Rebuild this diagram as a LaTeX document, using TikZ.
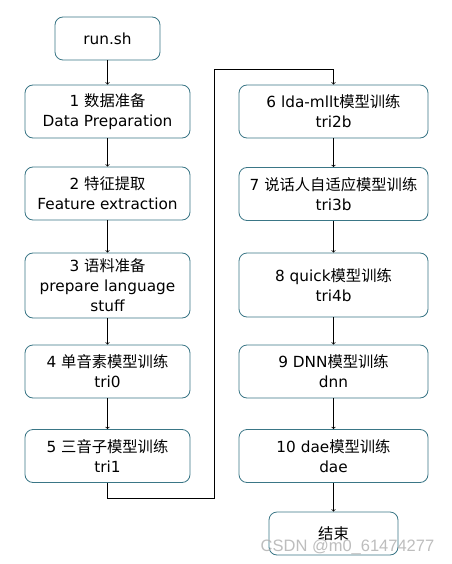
\documentclass[tikz,border=0pt]{standalone}
\usepackage{fontspec}
\setmainfont{DejaVu Sans}
\newfontfamily\cjk{Noto Sans CJK SC}
\newfontfamily\wmfont{Liberation Sans}
\usepackage{xcolor}
\usepackage{tikz}
\usetikzlibrary{arrows}
\definecolor{boxline}{HTML}{3A7686}
\tikzset{
    stepnode/.style={draw=boxline, line width=0.8pt, rounded corners=8pt, fill=white,
        minimum width=165pt, minimum height=53pt, inner sep=0pt, align=center,
        font=\fontsize{15.3}{20}\selectfont},
    flow/.style={-to, line width=0.7pt}
}
\begin{document}
\begin{tikzpicture}[x=1pt,y=-1pt]
                    \useasboundingbox (0,0) rectangle (451,564);
                    \node[stepnode, minimum width=105pt, minimum height=43pt] (run) at (107.5,38.5) {run.sh};
                    \node[stepnode] (s1) at (107.5,111.5) {1 {\cjk 数据准备}\\Data Preparation};
                    \node[stepnode] (s2) at (107.5,193.5) {2 {\cjk 特征提取}\\Feature extraction};
                    \node[stepnode, minimum height=65pt] (s3) at (107.5,285.5) {3 {\cjk 语料准备}\\prepare language\\stuff};
                    \node[stepnode] (s4) at (107.5,371.5) {4 {\cjk 单音素模型训练}\\tri0};
                    \node[stepnode] (s5) at (107.5,456) {5 {\cjk 三音子模型训练}\\tri1};
                    \node[stepnode, minimum width=189pt] (s6) at (333.5,111.5) {6 lda-mllt{\cjk 模型训练}\\tri2b};
                    \node[stepnode, minimum width=189pt] (s7) at (333.5,194) {7 {\cjk 说话人自适应模型训练}\\tri3b};
                    \node[stepnode, minimum width=189pt, minimum height=64pt] (s8) at (333.5,285) {8 quick{\cjk 模型训练}\\tri4b};
                    \node[stepnode, minimum width=189pt] (s9) at (333.5,371.5) {9 DNN{\cjk 模型训练}\\dnn};
                    \node[stepnode, minimum width=189pt] (s10) at (333.5,456) {10 dae{\cjk 模型训练}\\dae};
                    \node[stepnode, minimum width=129pt, minimum height=43pt] (end) at (333.5,533.5) {{\cjk 结束}};
                    \draw [flow] (run) -- (s1);
                    \draw [flow] (s1) -- (s2);
                    \draw [flow] (s2) -- (s3);
                    \draw [flow] (s3) -- (s4);
                    \draw [flow] (s4) -- (s5);
                    \coordinate (turnb) at (214,498);
                    \coordinate (turnt) at (214,69);
                    \draw [flow] (s5.south) -- (s5.south |- turnb) -- (turnb) -- (turnt) -- (s6.north |- turnt) -- (s6.north);
                    \draw [flow] (s6) -- (s7);
                    \draw [flow] (s7) -- (s8);
                    \draw [flow] (s8) -- (s9);
                    \draw [flow] (s9) -- (s10);
                    \draw [flow] (s10) -- (end);
                    \node[font=\wmfont\fontsize{16.5}{18}\selectfont, text=gray!60, opacity=0.85] (wm) at (347.5,547) {CSDN @m0\_61474277};
                \end{tikzpicture}
\end{document}
